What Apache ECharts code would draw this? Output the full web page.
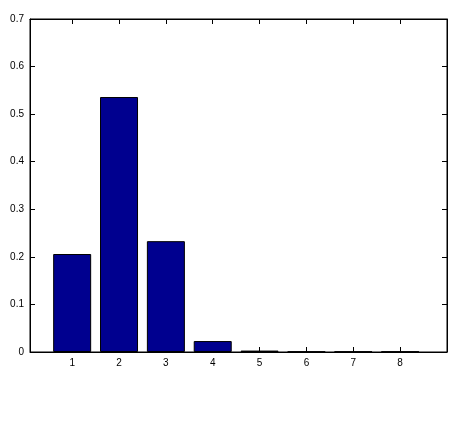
<!DOCTYPE html><html><head><meta charset="utf-8"><script src="https://cdn.jsdelivr.net/npm/echarts@6/dist/echarts.min.js"></script></head><body style="margin:0;background:#fff"><div id="c" style="width:474px;height:421px"></div><script>
const categories=[1,2,3,4,5,6,7,8];
const values=[0.206,0.536,0.233,0.023,0.003,0.001,0.001,0.001];
const yTicks=[0,0.1,0.2,0.3,0.4,0.5,0.6,0.7];
const ch=echarts.init(document.getElementById('c'));
const font={fontFamily:'Liberation Sans, Arial',fontSize:10,color:'#000'};
const axLine={show:true,onZero:false,lineStyle:{color:'#000',width:1}};
ch.setOption({animation:false,
grid:{left:30,right:27,top:19,bottom:69,show:true,borderColor:'#000',borderWidth:1,backgroundColor:'transparent'},
xAxis:[{type:'value',min:0.1,max:9.0,axisLine:axLine,splitLine:{show:false},
 axisTick:{inside:true,length:5,lineStyle:{color:'#000'},customValues:categories},
 axisLabel:Object.assign({customValues:categories,margin:6},font)},
 {type:'value',position:'top',min:0.1,max:9.0,axisLine:axLine,splitLine:{show:false},
 axisTick:{inside:true,length:5,lineStyle:{color:'#000'},customValues:categories},axisLabel:{show:false}}],
yAxis:[{type:'value',min:0,max:0.7,interval:0.1,axisLine:axLine,splitLine:{show:false},
 axisTick:{inside:true,length:5,lineStyle:{color:'#000'}},
 axisLabel:Object.assign({margin:6,formatter:v=>String(+v.toFixed(1))},font)},
 {type:'value',position:'right',min:0,max:0.7,interval:0.1,axisLine:axLine,splitLine:{show:false},
 axisTick:{inside:true,length:5,lineStyle:{color:'#000'}},axisLabel:{show:false}}],
series:[{type:'bar',barWidth:38,data:categories.map((c,i)=>[c,values[i]]),
 itemStyle:{color:'#00008f',borderColor:'#000',borderWidth:1}}]});
</script></body></html>
